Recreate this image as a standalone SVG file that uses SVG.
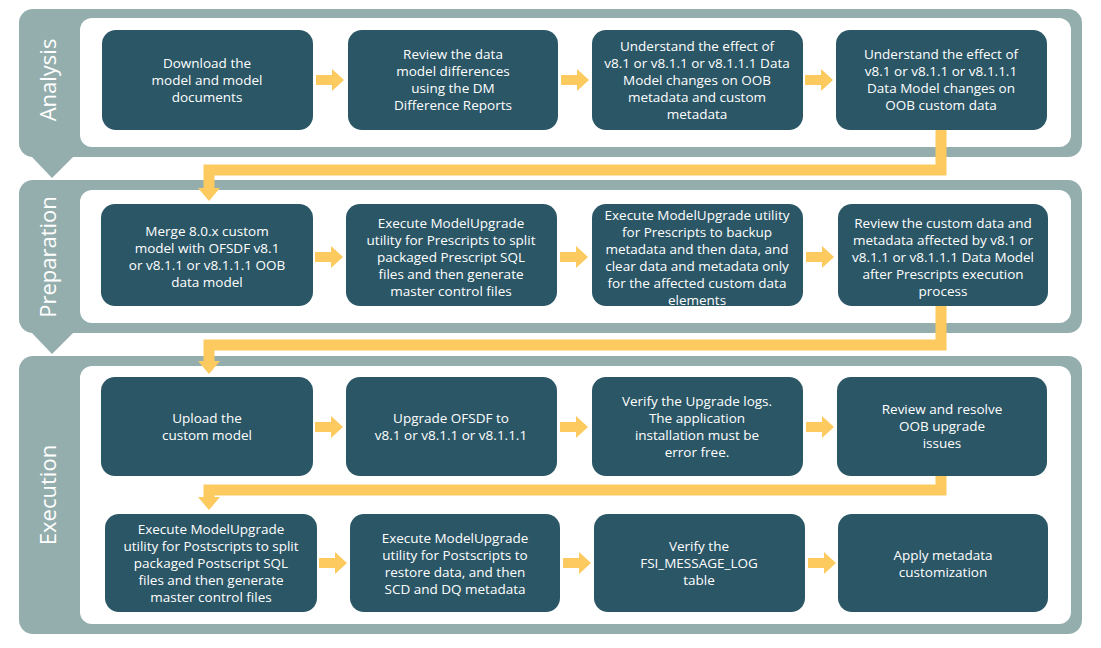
<svg xmlns="http://www.w3.org/2000/svg" width="1101" height="648" viewBox="0 0 1101 648">
<style>
.panel{fill:#94aead}
.inner{fill:#fff}
.node rect{fill:#2b5666}
.node text{fill:#fff;font-family:"Open Sans",sans-serif;font-size:13.5px;text-anchor:middle}
.side{fill:#fff;font-family:"Open Sans",sans-serif;font-size:22px;text-anchor:middle}
.conn{fill:none;stroke:#fcca5e;stroke-width:11}
.ah{fill:#fcca5e}
</style>
<defs>
<g id="harrow"><rect x="0" y="-5" width="18" height="10" class="ah"/><polygon points="16,-11 28,0 16,11" class="ah"/></g>
</defs>
<rect width="1101" height="648" fill="#fff"/>
<g id="panel-analysis">
<rect class="panel" x="19" y="9" width="1063" height="148" rx="14"/>
<polygon class="panel" points="32,157 73,157 52,178"/>
<rect class="inner" x="80" y="18" width="991" height="129" rx="12"/>
<text class="side" transform="translate(56,80) rotate(-90)">Analysis</text>
</g>
<g id="panel-preparation">
<rect class="panel" x="19" y="180" width="1063" height="153" rx="14"/>
<polygon class="panel" points="32,333 73,333 52,354"/>
<rect class="inner" x="80" y="190" width="991" height="133" rx="12"/>
<text class="side" transform="translate(56,257) rotate(-90)">Preparation</text>
</g>
<g id="panel-execution">
<rect class="panel" x="19" y="356" width="1063" height="278" rx="14"/>
<rect class="inner" x="80" y="366" width="991" height="258" rx="12"/>
<text class="side" transform="translate(56,495) rotate(-90)">Execution</text>
</g>
<g id="connectors">
<path class="conn" d="M941,130 V170 H209 V190"/>
<polygon class="ah" points="198,188 220,188 209,201"/>
<path class="conn" d="M941,306 V345 H209 V362"/>
<polygon class="ah" points="198,361 220,361 209,374"/>
<path class="conn" d="M941,476 V490 H209 V498"/>
<polygon class="ah" points="198,497 220,497 209,510"/>
<use href="#harrow" x="316" y="80"/><use href="#harrow" x="561" y="80"/><use href="#harrow" x="805" y="80"/>
<use href="#harrow" x="315" y="257"/><use href="#harrow" x="560" y="257"/><use href="#harrow" x="806" y="257"/>
<use href="#harrow" x="315" y="427"/><use href="#harrow" x="560" y="427"/><use href="#harrow" x="806" y="427"/>
<use href="#harrow" x="319" y="563"/><use href="#harrow" x="563" y="563"/><use href="#harrow" x="808" y="563"/>
</g>
<g id="n1" class="node"><rect x="102" y="30" width="211" height="100" rx="14"/><text x="207" y="68">Download the<tspan x="207" dy="17">model and model</tspan><tspan x="207" dy="17">documents</tspan></text></g>
<g id="n2" class="node"><rect x="348" y="30" width="210" height="100" rx="14"/><text x="453" y="59">Review the data<tspan x="453" dy="17">model differences</tspan><tspan x="453" dy="17">using the DM</tspan><tspan x="453" dy="17">Difference Reports</tspan></text></g>
<g id="n3" class="node"><rect x="592" y="30" width="211" height="100" rx="14"/><text x="697" y="51">Understand the effect of<tspan x="697" dy="17">v8.1 or v8.1.1 or v8.1.1.1 Data</tspan><tspan x="697" dy="17">Model changes on OOB</tspan><tspan x="697" dy="17">metadata and custom</tspan><tspan x="697" dy="17">metadata</tspan></text></g>
<g id="n4" class="node"><rect x="836" y="30" width="211" height="100" rx="14"/><text x="941" y="59">Understand the effect of<tspan x="941" dy="17">v8.1 or v8.1.1 or v8.1.1.1</tspan><tspan x="941" dy="17">Data Model changes on</tspan><tspan x="941" dy="17">OOB custom data</tspan></text></g>
<g id="n5" class="node"><rect x="101" y="204" width="212" height="102" rx="14"/><text x="207" y="236">Merge 8.0.x custom<tspan x="207" dy="17">model with OFSDF v8.1</tspan><tspan x="207" dy="17">or v8.1.1 or v8.1.1.1 OOB</tspan><tspan x="207" dy="17">data model</tspan></text></g>
<g id="n6" class="node"><rect x="346" y="204" width="211" height="102" rx="14"/><text x="451" y="228">Execute ModelUpgrade<tspan x="451" dy="17">utility for Prescripts to split</tspan><tspan x="451" dy="17">packaged Prescript SQL</tspan><tspan x="451" dy="17">files and then generate</tspan><tspan x="451" dy="17">master control files</tspan></text></g>
<g id="n7" class="node"><rect x="592" y="204" width="211" height="102" rx="14"/><text x="697" y="220">Execute ModelUpgrade utility<tspan x="697" dy="17">for Prescripts to backup</tspan><tspan x="697" dy="17">metadata and then data, and</tspan><tspan x="697" dy="17">clear data and metadata only</tspan><tspan x="697" dy="17">for the affected custom data</tspan><tspan x="697" dy="17">elements</tspan></text></g>
<g id="n8" class="node"><rect x="838" y="204" width="210" height="102" rx="14"/><text x="943" y="228">Review the custom data and<tspan x="943" dy="17">metadata affected by v8.1 or</tspan><tspan x="943" dy="17">v8.1.1 or v8.1.1.1 Data Model</tspan><tspan x="943" dy="17">after Prescripts execution</tspan><tspan x="943" dy="17">process</tspan></text></g>
<g id="n9" class="node"><rect x="101" y="377" width="212" height="99" rx="14"/><text x="207" y="423">Upload the<tspan x="207" dy="17">custom model</tspan></text></g>
<g id="n10" class="node"><rect x="346" y="377" width="211" height="99" rx="14"/><text x="451" y="423">Upgrade  OFSDF to<tspan x="451" dy="17">v8.1 or v8.1.1 or v8.1.1.1</tspan></text></g>
<g id="n11" class="node"><rect x="592" y="377" width="211" height="99" rx="14"/><text x="697" y="406">Verify the Upgrade logs.<tspan x="697" dy="17">The application</tspan><tspan x="697" dy="17">installation must be</tspan><tspan x="697" dy="17">error free.</tspan></text></g>
<g id="n12" class="node"><rect x="837" y="377" width="210" height="99" rx="14"/><text x="942" y="414">Review and resolve<tspan x="942" dy="17">OOB upgrade</tspan><tspan x="942" dy="17">issues</tspan></text></g>
<g id="n13" class="node"><rect x="105" y="514" width="212" height="98" rx="14"/><text x="211" y="534">Execute ModelUpgrade<tspan x="211" dy="17">utility for Postscripts to split</tspan><tspan x="211" dy="17">packaged Postscript SQL</tspan><tspan x="211" dy="17">files and then generate</tspan><tspan x="211" dy="17">master control files</tspan></text></g>
<g id="n14" class="node"><rect x="350" y="514" width="210" height="98" rx="14"/><text x="455" y="543">Execute ModelUpgrade<tspan x="455" dy="17">utility for Postscripts to</tspan><tspan x="455" dy="17">restore data, and then</tspan><tspan x="455" dy="17">SCD and DQ metadata</tspan></text></g>
<g id="n15" class="node"><rect x="594" y="514" width="211" height="98" rx="14"/><text x="699" y="551">Verify the<tspan x="699" dy="17">FSI_MESSAGE_LOG</tspan><tspan x="699" dy="17">table</tspan></text></g>
<g id="n16" class="node"><rect x="838" y="514" width="210" height="98" rx="14"/><text x="943" y="560">Apply metadata<tspan x="943" dy="17">customization</tspan></text></g>
</svg>
